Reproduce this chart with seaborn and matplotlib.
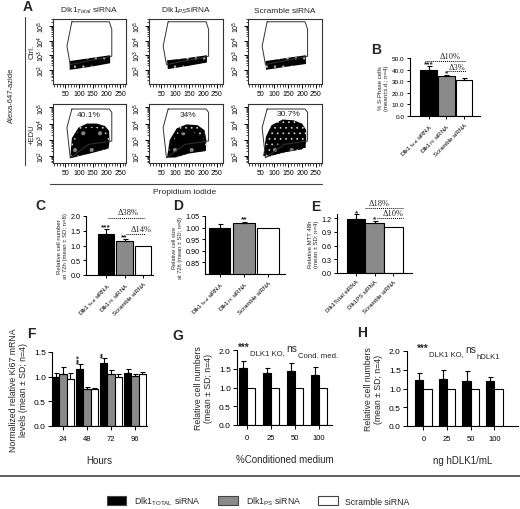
import numpy as np
import pandas as pd
import matplotlib
matplotlib.use("Agg")
import matplotlib.pyplot as plt
from matplotlib.lines import Line2D
from matplotlib.patches import Patch
from matplotlib.ticker import MultipleLocator, LogLocator, NullFormatter
import seaborn as sns

# ---------------- data ----------------
siRNA = ["Dlk1 Total", "Dlk1 PS", "Scramble"]
bar_colors = {"Dlk1 Total": "black", "Dlk1 PS": "#8a8a8a", "Scramble": "white",
              "DLK1 KO": "black"}

# A: flow cytometry, x = propidium iodide, y = log10(Alexa-647-azide)
flow_titles = [r"Dlk1$_{Total}$ siRNA", r"Dlk1$_{PS}$siRNA", "Scramble siRNA"]
flow_pct = ["40.1%", "34%", "30.7%"]
pct_x = [135, 145, 153]
pct_y = [4.55, 4.55, 4.6]
gate_ctrl_x = [74, 211, 220, 220, 68, 56, 74]
gate_ctrl_y = [5.29, 5.29, 4.77, 2.93, 2.36, 3.62, 5.29]
gate_edu_x = [74, 211, 220, 220, 135, 68, 56, 74]
gate_edu_y = [4.9, 4.9, 4.69, 2.92, 2.71, 1.88, 3.75, 4.9]
ctrl_cloud_x = [[66, 140, 214, 214, 140, 66],
                [73, 140, 214, 214, 140, 70],
                [70, 140, 214, 214, 140, 68]]
ctrl_cloud_y = [[2.0, 2.2, 2.45, 3.0, 2.8, 2.6],
                [2.05, 2.25, 2.5, 3.0, 2.8, 2.65],
                [2.0, 2.2, 2.4, 3.0, 2.8, 2.6]]
edu_outer_x = [[68, 74, 98, 129, 165, 195, 210, 212, 208, 141, 92, 68],
               [70, 80, 105, 140, 180, 205, 212, 210, 150, 100, 70],
               [60, 70, 90, 130, 170, 200, 215, 215, 200, 130, 80, 60]]
edu_outer_y = [[1.85, 3.1, 3.75, 4.0, 4.0, 3.85, 3.55, 2.9, 2.45, 2.15, 1.95, 1.85],
               [1.9, 3.0, 3.7, 3.95, 3.9, 3.6, 3.0, 2.3, 2.15, 1.9, 1.9],
               [2.0, 3.2, 3.9, 4.25, 4.2, 4.0, 3.6, 2.8, 2.4, 2.2, 1.95, 2.0]]
edu_core_x = [[72, 92, 130, 170, 200, 210, 205, 150, 100, 72],
              [70, 85, 110, 160, 200, 210, 200, 150, 100, 70],
              [80, 130, 180, 213, 213, 150, 90]]
edu_core_y = [[1.9, 3.4, 3.75, 3.7, 3.3, 2.7, 2.45, 2.25, 2.05, 1.9],
              [1.9, 2.7, 3.4, 3.5, 3.2, 2.5, 2.3, 2.2, 1.95, 1.9],
              [2.0, 2.2, 2.4, 2.5, 2.9, 2.85, 2.6]]

# B: % S-phase cells
b_vals = [40.0, 34.2, 31.0]
b_err = [3.4, 1.4, 1.9]
# C: relative cell number at 72h
c_vals = [1.38, 1.14, 1.0]
c_err = [0.17, 0.07, 0.0]
# D: relative cell size at 72h
d_vals = [1.0, 1.018, 1.0]
d_err = [0.015, 0.008, 0.0]
# E: relative MTT 48h
e_vals = [1.18, 1.10, 1.0]
e_err = [0.10, 0.03, 0.0]

# F: Ki67 mRNA
hours = ["24", "48", "72", "96"]
f_total = [1.0, 1.15, 1.27, 1.08]
f_total_err = [0.07, 0.10, 0.10, 0.08]
f_ps = [1.06, 0.75, 1.05, 1.02]
f_ps_err = [0.14, 0.05, 0.08, 0.03]
f_scr = [0.96, 0.75, 1.0, 1.05]
f_scr_err = [0.12, 0.02, 0.05, 0.05]

# G: conditioned medium, H: hDLK1
doses = ["0", "25", "50", "100"]
g_ko = [1.53, 1.38, 1.45, 1.33]
g_ko_err = [0.18, 0.13, 0.20, 0.21]
g_scr = [1.0, 1.0, 1.0, 1.0]
h_ko = [1.24, 1.26, 1.19, 1.20]
h_ko_err = [0.17, 0.24, 0.27, 0.11]
h_scr = [1.0, 1.0, 1.0, 1.0]

# ---------------- style ----------------
sns.set_style("ticks")
plt.rcParams["font.family"] = ["Liberation Sans", "DejaVu Sans"]
plt.rcParams["mathtext.fontset"] = "custom"
plt.rcParams["mathtext.rm"] = "Liberation Sans"
plt.rcParams["mathtext.it"] = "Liberation Sans:italic"
plt.rcParams["axes.linewidth"] = 0.8
plt.rcParams["hatch.linewidth"] = 0.5
plt.rcParams["axes.edgecolor"] = "black"
plt.rcParams["xtick.color"] = "black"
plt.rcParams["ytick.color"] = "black"

W, H = 520, 510
fig = plt.figure(figsize=(5.2, 5.1), dpi=100)


def box(x0, y0, x1, y1):
    return [x0 / W, 1 - y1 / H, (x1 - x0) / W, (y1 - y0) / H]


def add_err(ax, errs):
    # containers come one per hue level
    for cont, ee in zip(ax.containers, errs):
        for bar, e in zip(cont, ee):
            if e <= 0:
                continue
            xc = bar.get_x() + bar.get_width() / 2
            ax.errorbar([xc], [bar.get_height()], yerr=[[0], [e]], fmt="none",
                        ecolor="black", elinewidth=0.8, capsize=1.8, capthick=0.8, zorder=3)


def small_bar(ax, vals, errs, width, ticklabels):
    df = pd.DataFrame({"grp": siRNA, "val": vals})
    sns.barplot(data=df, x="grp", y="val", hue="grp", order=siRNA, hue_order=siRNA,
                palette=bar_colors, width=width, edgecolor="black", linewidth=0.8,
                errorbar=None, legend=False, ax=ax)
    add_err(ax, [[e] for e in errs])
    sns.despine(ax=ax)
    ax.set_xlabel("")
    ax.set_xticks(range(3))
    ax.set_xticklabels(ticklabels, rotation=45, ha="right", rotation_mode="anchor", fontsize=4.3)
    ax.tick_params(axis="both", length=2.5, width=0.7, pad=1.5)


def star(ax, x, y, s, rot=0, size=6):
    ax.text(x, y, s, ha="center", va="bottom", fontsize=size, rotation=rot,
            fontweight="bold", clip_on=False)


def delta(ax, x0, x1, yl, xt, yt, s):
    ax.plot([x0, x1], [yl, yl], ls=(0, (1, 1)), lw=0.7, color="black", clip_on=False)
    ax.text(xt, yt, s, ha="center", va="center", fontsize=6,
            family=["Liberation Serif", "DejaVu Serif"])


# ---------------- A: flow plots ----------------
col_x = [(53, 126), (149, 223), (248, 322)]
row_y = [(20, 85), (105, 164)]
row_ylim = [(1.03, 5.48), (1.56, 5.21)]
for c in range(3):
    for r in range(2):
        ax = fig.add_axes(box(col_x[c][0], row_y[r][0], col_x[c][1], row_y[r][1]))
        ax.set_yscale("log")
        if r == 0:
            ax.fill(ctrl_cloud_x[c], 10 ** np.array(ctrl_cloud_y[c]), facecolor="black",
                    edgecolor="#bbbbbb", hatch="..", lw=0)
            ax.plot(gate_ctrl_x, 10 ** np.array(gate_ctrl_y), color="#333", lw=0.7)
            ax.set_title(flow_titles[c], fontsize=6, pad=5)
        else:
            ax.fill(edu_outer_x[c], 10 ** np.array(edu_outer_y[c]), facecolor="black",
                    edgecolor="#d8d8d8", hatch="...", lw=0)
            ax.fill(edu_core_x[c], 10 ** np.array(edu_core_y[c]), facecolor="black",
                    edgecolor="#888888", hatch=".", lw=0)
            ax.plot(gate_edu_x, 10 ** np.array(gate_edu_y), color="#333", lw=0.7)
            ax.text(pct_x[c], 10 ** pct_y[c], flow_pct[c], ha="center", va="center", fontsize=6)
        ax.set_xlim(5, 272)
        ax.set_ylim(10 ** row_ylim[r][0], 10 ** row_ylim[r][1])
        ax.set_xticks([50, 100, 150, 200, 250])
        ax.xaxis.set_minor_locator(MultipleLocator(10))
        ax.set_yticks([1e2, 1e3, 1e4, 1e5])
        ax.set_yticklabels([r"$10^2$", r"$10^3$", r"$10^4$", r"$10^5$"], rotation=90, va="center")
        ax.yaxis.set_minor_locator(LogLocator(base=10, subs=np.arange(2, 10), numticks=20))
        ax.yaxis.set_minor_formatter(NullFormatter())
        ax.tick_params(which="major", length=3, width=0.7, labelsize=5, pad=1.5)
        ax.tick_params(which="minor", length=1.8, width=0.5)
        for sp in ax.spines.values():
            sp.set_color("#333")

fig.add_artist(Line2D([25 / W, 25 / W], [1 - 18 / H, 1 - 166 / H], color="#444", lw=0.8))
fig.add_artist(Line2D([50 / W, 322 / W], [1 - 185 / H, 1 - 185 / H], color="#444", lw=0.8))
fig.text(11 / W, 1 - 95 / H, "Alexa-647-azide", rotation=90, ha="center", va="center", fontsize=5.5)
fig.text(32 / W, 1 - 52 / H, "Ctrl.", rotation=90, ha="center", va="center", fontsize=5.5)
fig.text(32 / W, 1 - 135 / H, "+EDU", rotation=90, ha="center", va="center", fontsize=5.5)
fig.text(185 / W, 1 - 193 / H, "Propidium iodide", ha="center", va="center", fontsize=6)

sub_labels = [r"Dlk1$_{Total}$ siRNA", r"Dlk1$_{PS}$ siRNA", "Scramble siRNA"]

# ---------------- B ----------------
ax = fig.add_axes(box(410, 59, 480, 117))
small_bar(ax, b_vals, b_err, 0.95, sub_labels)
ax.set_xlim(-1.05, 2.9)
ax.set_ylim(0, 50)
ax.set_yticks([0, 10, 20, 30, 40, 50])
ax.set_yticklabels(["0.0", "10.0", "20.0", "30.0", "40.0", "50.0"], fontsize=4.6)
ax.set_ylabel("% S-Phase cells\n(mean±s.d.; n=4)", fontsize=4.3, labelpad=2)
star(ax, 0, b_vals[0] + b_err[0] - 1.5, "***")
star(ax, 1, b_vals[1] + b_err[1] - 1, "*")
delta(ax, -0.2, 2.1, 47.4, 1.2, 51.5, "Δ10%")
delta(ax, 1.05, 2.1, 38.8, 1.6, 42.5, "Δ3%")

# ---------------- C ----------------
ax = fig.add_axes(box(86, 217, 153, 276))
small_bar(ax, c_vals, c_err, 0.9, sub_labels)
ax.set_xlim(-1.1, 2.55)
ax.set_ylim(0, 2.0)
ax.set_yticks([0, 0.5, 1.0, 1.5, 2.0])
ax.set_yticklabels(["0.0", "0.5", "1.0", "1.5", "2.0"], fontsize=5.2)
ax.set_ylabel("Relative cell number\nat 72h (mean ± SD; n=8)", fontsize=4.3, labelpad=2)
star(ax, 0, c_vals[0] + c_err[0] - 0.04, "***")
star(ax, 1, c_vals[1] + c_err[1] - 0.04, "**")
delta(ax, 0.1, 2.1, 1.92, 1.2, 2.12, "Δ38%")
delta(ax, 1.1, 2.1, 1.38, 1.9, 1.56, "Δ14%")

# ---------------- D ----------------
ax = fig.add_axes(box(205, 217, 285, 275))
small_bar(ax, d_vals, d_err, 0.9, sub_labels)
ax.set_xlim(-0.6, 2.7)
ax.set_ylim(0.80, 1.05)
ax.set_yticks([0.85, 0.90, 0.95, 1.00, 1.05])
ax.set_yticklabels(["0.85", "0.90", "0.95", "1.00", "1.05"], fontsize=5.2)
ax.set_ylabel("Relative cell size\nat 72h (mean ± SD; n=8)", fontsize=4.1, labelpad=2)
ax.yaxis.set_label_coords(-0.28, 0.46)
star(ax, 1, d_vals[1] + d_err[1] - 0.002, "**")

# ---------------- E ----------------
ax = fig.add_axes(box(337, 215, 412, 274))
small_bar(ax, e_vals, e_err, 1.0, ["Dlk1Total siRNA", "Dlk1PS siRNA", "Scramble siRNA"])
ax.set_xlim(-1.03, 3.0)
ax.set_ylim(0, 1.29)
ax.set_yticks([0, 0.3, 0.6, 0.9, 1.2])
ax.set_yticklabels(["0.0", "0.3", "0.6", "0.9", "1.2"], fontsize=5.2)
ax.set_ylabel("Relative MTT 48h\n(mean ± SD; n=4)", fontsize=4.3, labelpad=2)
star(ax, 0, e_vals[0] + e_err[0] - 0.03, "*")
star(ax, 1, e_vals[1] + e_err[1] - 0.03, "*")
delta(ax, 0.5, 2.5, 1.42, 1.25, 1.53, "Δ18%")
delta(ax, 1.1, 2.5, 1.2, 2.0, 1.31, "Δ10%")

# ---------------- F ----------------
ax = fig.add_axes(box(52, 353, 147, 427))
df_f = pd.DataFrame({
    "hour": hours * 3,
    "grp": [siRNA[0]] * 4 + [siRNA[1]] * 4 + [siRNA[2]] * 4,
    "val": f_total + f_ps + f_scr,
})
sns.barplot(data=df_f, x="hour", y="val", hue="grp", order=hours, hue_order=siRNA,
            palette=bar_colors, width=0.9, edgecolor="black", linewidth=0.8,
            errorbar=None, legend=False, ax=ax)
add_err(ax, [f_total_err, f_ps_err, f_scr_err])
sns.despine(ax=ax)
ax.set_xlim(-0.46, 3.5)
ax.set_ylim(0, 1.5)
ax.set_yticks([0, 0.5, 1.0, 1.5])
ax.set_yticklabels(["0.0", "0.5", "1.0", "1.5"], fontsize=6)
ax.tick_params(axis="x", labelsize=5.5, length=3, width=0.7)
ax.tick_params(axis="y", length=3, width=0.7, pad=1.5)
ax.set_xlabel("Hours", fontsize=7, labelpad=9)
ax.set_ylabel("Normalized relative Ki67 mRNA\nlevels (mean ± SD; n=4)", fontsize=6.3, labelpad=4)
bars_total = ax.containers[0]
for i, s in [(1, "***"), (2, "**")]:
    b = bars_total[i]
    star(ax, b.get_x() + b.get_width() / 2, f_total[i] + f_total_err[i] + 0.02, s, rot=90, size=6)


# ---------------- G and H ----------------
def ko_panel(ax, ko, ko_err, scr, xmax, xlabel, sub2, hx):
    df = pd.DataFrame({"dose": doses * 2,
                       "grp": ["DLK1 KO"] * 4 + ["Scramble"] * 4,
                       "val": ko + scr})
    sns.barplot(data=df, x="dose", y="val", hue="grp", order=doses,
                hue_order=["DLK1 KO", "Scramble"], palette=bar_colors, width=0.7,
                edgecolor="black", linewidth=0.8, errorbar=None, legend=False, ax=ax)
    add_err(ax, [ko_err, [0, 0, 0, 0]])
    sns.despine(ax=ax)
    ax.set_xlim(-0.42, xmax)
    ax.set_ylim(0, 2.0)
    ax.set_yticks([0, 0.5, 1.0, 1.5, 2.0])
    ax.set_yticklabels(["0.0", "0.5", "1.0", "1.5", "2.0"], fontsize=6)
    ax.tick_params(axis="x", labelsize=5.5, length=3, width=0.7)
    ax.tick_params(axis="y", length=3, width=0.7, pad=1.5)
    ax.set_xlabel(xlabel, fontsize=7, labelpad=9)
    ax.set_ylabel("Relative cell numbers\n(mean ± SD; n=4)", fontsize=6.3, labelpad=4)
    t1 = ax.text(hx, 1.0, "***", transform=ax.transAxes, fontsize=7, va="baseline",
                 fontweight="bold")
    t2 = ax.annotate("DLK1 KO,", xy=(1, 0), xycoords=t1, xytext=(0.2, -1.5),
                     textcoords="offset points", fontsize=5.6, va="baseline")
    t3 = ax.annotate("ns", xy=(1, 0), xycoords=t2, xytext=(1.3, 4.0),
                     textcoords="offset points", fontsize=7.3, va="baseline")
    ax.annotate(sub2, xy=(1, 0), xycoords=t3, xytext=(0.2, -3.0),
                textcoords="offset points", fontsize=5.6, va="baseline")


ax = fig.add_axes(box(237, 351, 332, 426))
ko_panel(ax, g_ko, g_ko_err, g_scr, 3.54, "%Conditioned medium", "Cond. med.", 0.01)
ax = fig.add_axes(box(407, 352, 518, 427))
ko_panel(ax, h_ko, h_ko_err, h_scr, 4.0, "ng hDLK1/mL", "hDLK1", 0.09)
ax.set_xlim(-0.69, 4.0)

# ---------------- panel letters ----------------
for s, x, y in [("A", 28, 7), ("B", 376, 50), ("C", 40, 206), ("D", 178, 206),
                ("E", 316, 207), ("F", 31, 334), ("G", 178, 336), ("H", 362, 333)]:
    fig.text(x / W, 1 - y / H, s, fontsize=10, fontweight="bold", ha="center", va="center")

# ---------------- bottom legend ----------------
fig.add_artist(Line2D([0, 1], [1 - 477 / H, 1 - 477 / H], color="#555", lw=1.3))
handles = [Patch(facecolor="black", edgecolor="#444", lw=0.8),
           Patch(facecolor="#8a8a8a", edgecolor="#444", lw=0.8),
           Patch(facecolor="white", edgecolor="#444", lw=0.8)]
labels = [r"Dlk1$_{\mathrm{TOTAL}}$ siRNA", r"Dlk1$_{\mathrm{PS}}$ siRNA", "Scramble siRNA"]
fig.legend(handles, labels, loc="center", bbox_to_anchor=(0.497, 1 - 502 / H), ncol=3,
           frameon=False, fontsize=6.3, handlelength=2.2, handleheight=1.2,
           handletextpad=0.9, columnspacing=2.0)

fig.savefig("out.png", dpi=100)
